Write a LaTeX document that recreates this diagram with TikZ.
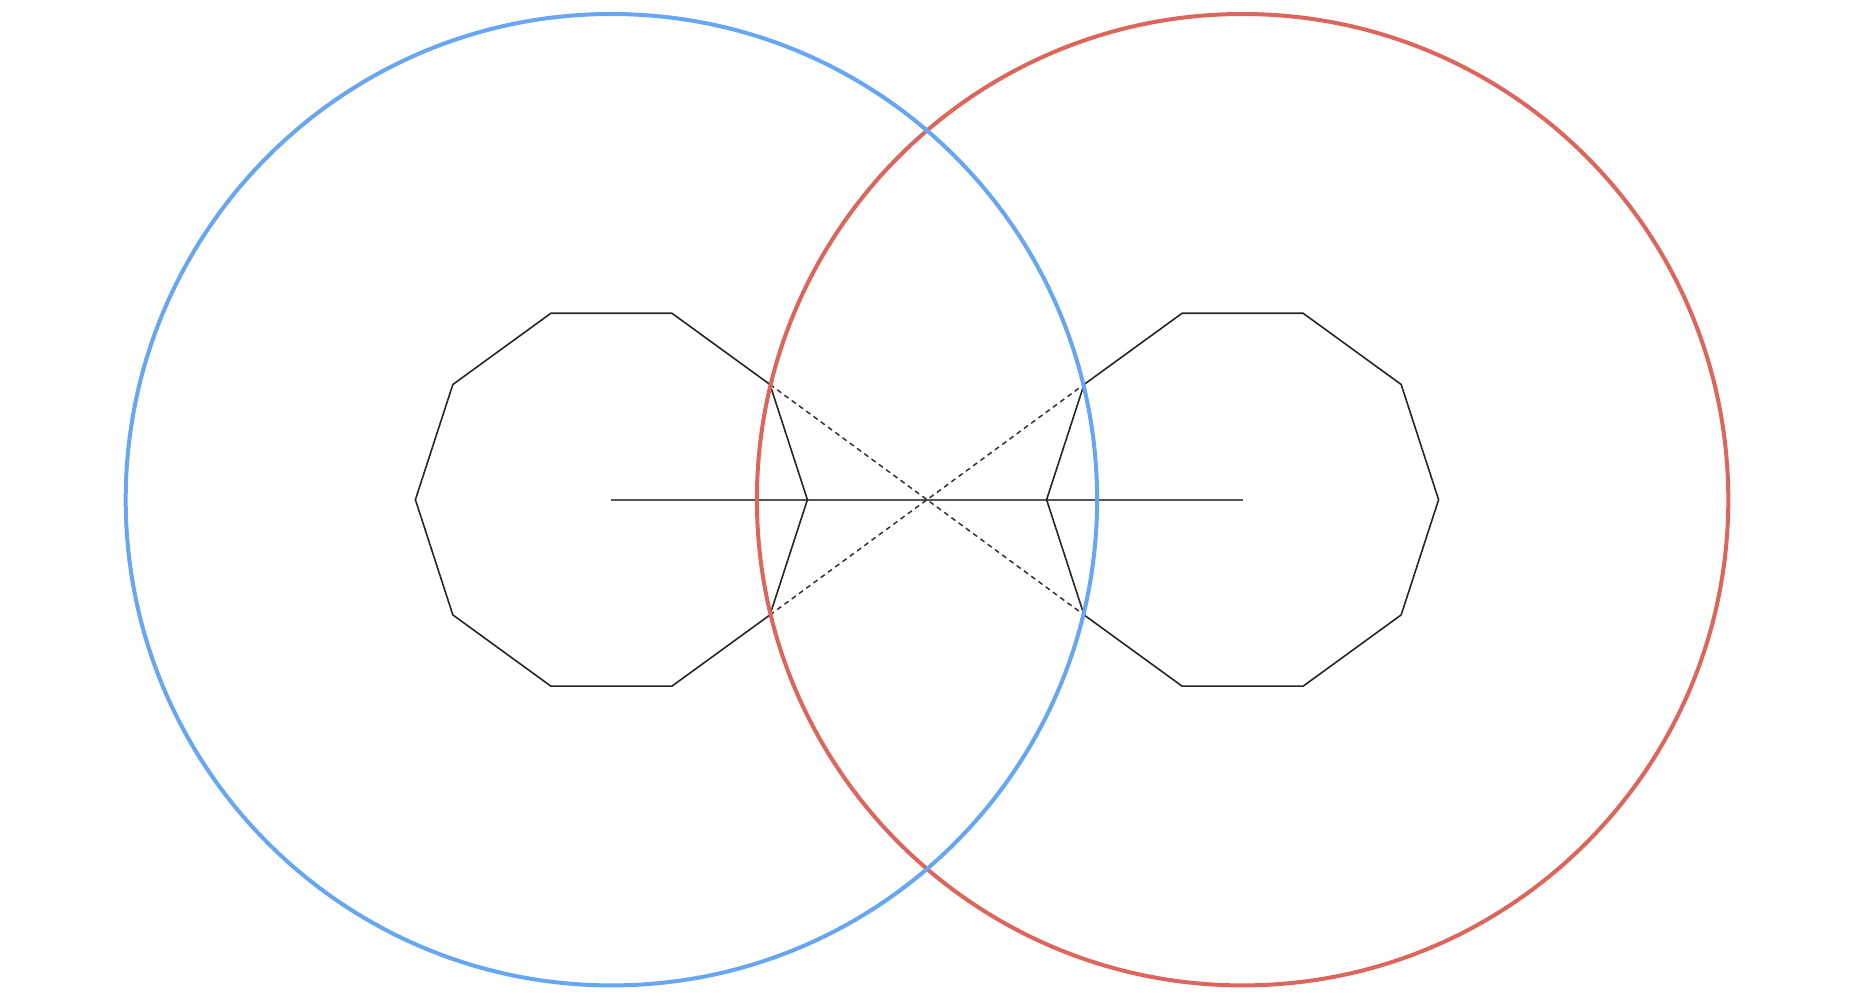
\documentclass[tikz,border=0pt]{standalone}
\definecolor{cblue}{RGB}{102,166,242}
\definecolor{cred}{RGB}{221,102,92}
\definecolor{axisgray}{RGB}{85,85,85}
\begin{document}
\begin{tikzpicture}[x=1pt,y=-1pt,
  ring/.style={line width=4pt},
  polyedge/.style={line width=1.6pt, draw=black!85, line join=miter},
  axisline/.style={line width=2.2pt, draw=axisgray},
  diag/.style={line width=1.5pt, draw=black!80, dash pattern=on 5pt off 4pt}]
\useasboundingbox (0,0) rectangle (1852,998);
\coordinate (CL) at (611.4,499.7);
\coordinate (CR) at (1242.6,499.7);
\foreach \i in {0,...,9}{
  \coordinate (L\i) at ([shift={(\i*36:196)}]CL);
  \coordinate (R\i) at ([shift={(\i*36:196)}]CR);
}
% axis
\draw[axisline] (CL) -- (CR);
% decagons
\draw[polyedge] (L0) -- (L1) -- (L2) -- (L3) -- (L4) -- (L5) -- (L6) -- (L7) -- (L8) -- (L9) -- cycle;
\draw[polyedge] (R0) -- (R1) -- (R2) -- (R3) -- (R4) -- (R5) -- (R6) -- (R7) -- (R8) -- (R9) -- cycle;
% dashed diagonals
\draw[diag] (L1) -- (R6);
\draw[diag] (L9) -- (R4);
% circles
\draw[ring, cred] (CR) circle[radius=485.7];
\draw[ring, cblue] (CL) circle[radius=485.7];
\end{tikzpicture}
\end{document}
